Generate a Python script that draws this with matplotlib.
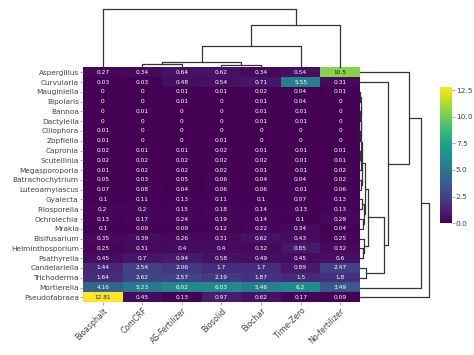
import numpy as np
import matplotlib
matplotlib.use("Agg")
import matplotlib.pyplot as plt

# data
genera = ["Aspergillus", "Curvularia", "Mauginiella", "Bipolaris", "Bannoa",
          "Dactylella", "Ciliophora", "Zopfiella", "Capronia", "Scutellinia",
          "Megasporoporia", "Batrachochytrium", "Luteoamylascus", "Gyalecta",
          "Filosporella", "Ochrolechia", "Mrakia", "Bisifusarium",
          "Helminthosporium", "Psathyrella", "Candelariella", "Trichoderma",
          "Mortierella", "Pseudofabraea"]
treatments = ["Bioasphalt", "ComCRF", "AS-Fertilizer", "Biosolid", "Biochar",
              "Time-Zero", "No-fertilizer"]

values = [
    [0.27, 0.34, 0.64, 0.62, 0.34, 0.54, 10.5],
    [0.03, 0.03, 0.48, 0.54, 0.71, 5.55, 0.31],
    [0, 0, 0.01, 0.01, 0.02, 0.04, 0.01],
    [0, 0, 0.01, 0, 0.01, 0.04, 0],
    [0, 0.01, 0, 0, 0.01, 0.01, 0],
    [0, 0, 0, 0, 0.01, 0.01, 0],
    [0.01, 0, 0, 0, 0, 0, 0],
    [0.01, 0, 0, 0.01, 0, 0, 0],
    [0.02, 0.01, 0.01, 0.02, 0.01, 0.01, 0.01],
    [0.02, 0.02, 0.02, 0.02, 0.02, 0.01, 0.01],
    [0.01, 0.02, 0.02, 0.02, 0.01, 0.01, 0.02],
    [0.05, 0.03, 0.05, 0.06, 0.04, 0.04, 0.02],
    [0.07, 0.08, 0.04, 0.06, 0.06, 0.01, 0.06],
    [0.1, 0.11, 0.13, 0.11, 0.1, 0.07, 0.13],
    [0.2, 0.2, 0.15, 0.18, 0.14, 0.13, 0.13],
    [0.13, 0.17, 0.24, 0.19, 0.14, 0.1, 0.29],
    [0.1, 0.09, 0.09, 0.12, 0.22, 0.34, 0.04],
    [0.35, 0.39, 0.26, 0.31, 0.62, 0.43, 0.25],
    [0.25, 0.31, 0.4, 0.4, 0.32, 0.85, 0.32],
    [0.45, 0.7, 0.94, 0.58, 0.49, 0.45, 0.6],
    [1.44, 2.54, 2.06, 1.7, 1.7, 0.89, 2.47],
    [1.64, 2.62, 2.57, 2.19, 1.87, 1.5, 1.8],
    [4.16, 5.23, 6.02, 6.03, 5.46, 6.2, 3.49],
    [12.81, 0.45, 0.13, 0.97, 0.62, 0.17, 0.09],
]

# linkage (merge a, b at height); ids >= n are earlier merges
col_links = [(1, 2, 3.5), (3, 4, 2.5), (7, 8, 5.0), (9, 5, 21.5),
             (10, 6, 42.5), (0, 11, 58.5)]
row_links = [(2, 3, 0.3), (4, 5, 0.3), (24, 25, 0.6), (6, 7, 0.3),
             (26, 27, 0.9), (8, 9, 0.3), (29, 10, 0.5), (28, 30, 1.2),
             (11, 12, 0.8), (31, 32, 1.8), (13, 14, 1.5), (15, 16, 3.0),
             (34, 35, 3.8), (33, 36, 4.5), (18, 19, 2.5), (17, 38, 3.5),
             (37, 39, 8.0), (20, 21, 5.7), (40, 41, 23.7), (1, 42, 27.7),
             (0, 43, 49.0), (44, 22, 61.0), (45, 23, 69.3)]

data = np.array(values)
W, H = 474, 355
fig = plt.figure(figsize=(W / 100, H / 100), dpi=100)


def box(x0, y0, x1, y1):
    return [x0 / W, 1 - y1 / H, (x1 - x0) / W, (y1 - y0) / H]


ax = fig.add_axes(box(83, 67.4, 360, 302.2))
ax_top = fig.add_axes(box(83, 9, 360, 67.4))
ax_right = fig.add_axes(box(360, 67.4, 429.3, 302.2))
cax = fig.add_axes(box(440, 86.7, 451.7, 223.3))

im = ax.imshow(data, aspect="auto", cmap="viridis", vmin=0, vmax=data.max(),
               interpolation="nearest")
for i in range(data.shape[0]):
    for j in range(data.shape[1]):
        v = data[i, j]
        ax.text(j, i, f"{v:g}", ha="center", va="center",
                color="#222222" if v >= 9 else "white", fontsize=4.2)

lab_col = "#444444"
ax.set_yticks(range(len(genera)))
ax.set_yticklabels(genera, fontsize=5.3, color=lab_col)
ax.set_xticks(range(len(treatments)))
ax.set_xticklabels(treatments, fontsize=5.6, color=lab_col, rotation=45,
                   ha="right", rotation_mode="anchor")
ax.tick_params(length=2, width=0.5, color="#888888", pad=1)
for s in ax.spines.values():
    s.set_visible(False)


def dendro(axis, links, n, orient):
    pos = {i: float(i) for i in range(n)}
    hgt = {i: 0.0 for i in range(n)}
    for k, (a, b, h) in enumerate(links):
        pa, pb = pos[a], pos[b]
        xs = [pa, pa, pb, pb]
        ys = [hgt[a], h, h, hgt[b]]
        if orient == "top":
            axis.plot(xs, ys, color="#333333", lw=0.9, clip_on=False)
        else:
            axis.plot(ys, xs, color="#333333", lw=0.9, clip_on=False)
        pos[n + k] = (pa + pb) / 2
        hgt[n + k] = h
    root = links[-1][2]
    if orient == "top":
        axis.set_xlim(-0.5, n - 0.5)
        axis.set_ylim(0, root)
    else:
        axis.set_ylim(n - 0.5, -0.5)
        axis.set_xlim(0, root)
    axis.axis("off")


dendro(ax_top, col_links, len(treatments), "top")
dendro(ax_right, row_links, len(genera), "right")

cb = fig.colorbar(im, cax=cax, ticks=[0, 2.5, 5, 7.5, 10, 12.5])
cb.ax.set_yticklabels(["0.0", "2.5", "5.0", "7.5", "10.0", "12.5"])
cb.ax.tick_params(labelsize=5.3, labelcolor=lab_col, length=2, width=0.5,
                  color="#888888", pad=1)
cb.outline.set_visible(False)

fig.savefig("out.png", dpi=100)
